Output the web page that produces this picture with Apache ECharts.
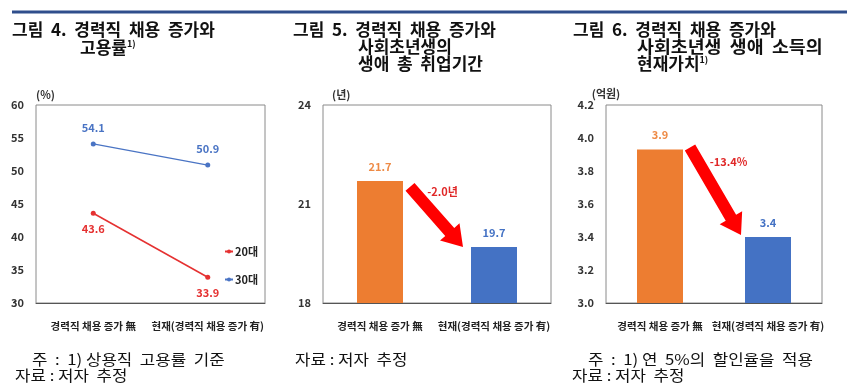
<!DOCTYPE html>
<html><head><meta charset="utf-8">
<script src="https://cdn.jsdelivr.net/npm/echarts@6/dist/echarts.min.js"></script>
<style>html,body{margin:0;padding:0;background:#fff}#c{width:860px;height:391px}</style>
</head><body><div id="c"></div>
<script>
// ---- data ----
const categories = ['경력직 채용 증가 無', '현재(경력직 채용 증가 有)'];
const seriesNames = ['20대', '30대'];
const rate20s = [43.6, 33.9];
const rate30s = [54.1, 50.9];
const workYears = [21.7, 19.7];
const incomePV = [3.93, 3.40];
const axis1 = [30, 60, 5];      // min, max, interval
const axis2 = [18, 24, 3];
const axis3 = [3.0, 4.2, 0.2];
const units = ['(%)', '(년)', '(억원)'];
const changeLabels = ['-2.0년', '-13.4%'];
const titles1 = ['그림  4.  경력직  채용  증가와', '고용률'];
const titles2 = ['그림  5.  경력직  채용  증가와', '사회초년생의', '생애  총  취업기간'];
const titles3 = ['그림  6.  경력직  채용  증가와', '사회초년생  생애  소득의', '현재가치'];
const notes = ['주  :  1) 상용직  고용률  기준', '자료 : 저자  추정', '주  :  1) 연  5%의  할인율을  적용'];

// ---- styles ----
const KR = "'Noto Sans CJK KR', sans-serif";
const NARROW = "'Liberation Sans Narrow', 'Noto Sans CJK KR', sans-serif";
const RED = '#e53131', BLUE = '#4a74c4', ORANGE = '#ed7d31', BARBLUE = '#4472c4';

const chart = echarts.init(document.getElementById('c'), null, {renderer: 'canvas'});

function yAxis(idx, a, fmt, nameStyle) {
  return {
    type: 'value', gridIndex: idx, min: a[0], max: a[1], interval: a[2],
    name: units[idx], nameLocation: 'end', nameGap: 5,
    nameTextStyle: Object.assign({fontFamily: NARROW, fontSize: 11, fontWeight: 'bold', color: '#333'}, nameStyle),
    axisLine: {show: false}, axisTick: {show: false}, splitLine: {show: false},
    axisLabel: {fontFamily: NARROW, fontSize: 11, fontWeight: 'bold', color: '#333', margin: 12, formatter: fmt}
  };
}
function xAxis(idx) {
  return {
    type: 'category', gridIndex: idx, data: categories, boundaryGap: true,
    axisTick: {show: false}, axisLine: {show: true, lineStyle: {color: '#555', width: 1}},
    axisLabel: {interval: 0, fontFamily: NARROW, fontSize: 10.5, fontWeight: 'bold', color: '#222', margin: 18}
  };
}
const gridBase = {show: true, borderColor: '#8a8a8a', borderWidth: 1, backgroundColor: 'transparent', containLabel: false};

function textEl(t, x, y, size, weight, sx) {
  return {type: 'text', x: x, y: y, scaleX: sx || 1, silent: true,
    style: {text: t, fill: '#111', font: weight + ' ' + size + 'px ' + KR, textVerticalAlign: 'middle'}};
}
function supEl(t, x, y) {
  return {type: 'text', x: x, y: y, silent: true, style: {text: '{a|' + t + '}{s|1)}', textVerticalAlign: 'middle',
    rich: {a: {font: 'bold 17px ' + KR, fill: '#111'}, s: {font: 'bold 9px ' + KR, fill: '#111', verticalAlign: 'top', padding: [0, 0, 9, 0]}}}};
}

const staticGraphics = [
  {type: 'line', shape: {x1: 12, y1: 12, x2: 847, y2: 12}, style: {stroke: '#2f4e8c', lineWidth: 3}, silent: true},
  textEl(titles1[0], 12, 30, 17, 'bold'),
  supEl(titles1[1], 80, 48),
  textEl(titles2[0], 293, 30, 17, 'bold'),
  textEl(titles2[1], 358, 47, 17, 'bold'),
  textEl(titles2[2], 358, 64, 17, 'bold'),
  textEl(titles3[0], 573, 30, 17, 'bold'),
  textEl(titles3[1], 637, 47, 17, 'bold', 1.08),
  supEl(titles3[2], 637, 64),
  textEl(notes[0], 32, 359, 15, 'normal', 1.12),
  textEl(notes[1], 15, 375, 15, 'normal', 1.12),
  textEl(notes[1], 295, 359, 15, 'normal', 1.12),
  textEl(notes[2], 588, 359, 15, 'normal', 1.12),
  textEl(notes[1], 572, 375, 15, 'normal', 1.12)
];

const option = {
  animation: false,
  backgroundColor: '#fff',
  grid: [
    Object.assign({left: 36, top: 105, width: 229, height: 198}, gridBase),
    Object.assign({left: 323, top: 105, width: 228, height: 198}, gridBase),
    Object.assign({left: 606, top: 105, width: 216, height: 198}, gridBase)
  ],
  xAxis: [xAxis(0), xAxis(1), xAxis(2)],
  yAxis: [
    yAxis(0, axis1, null, {align: 'left', padding: [0, 0, 0, 0]}),
    yAxis(1, axis2, null, {align: 'left', padding: [0, 0, 0, 9]}),
    yAxis(2, axis3, v => v.toFixed(1), {align: 'center'})
  ],
  legend: {
    data: [seriesNames[0], seriesNames[1]], orient: 'vertical', left: 224, top: 246, itemGap: 17,
    itemWidth: 8, itemHeight: 5, padding: 0,
    textStyle: {fontFamily: NARROW, fontSize: 11, fontWeight: 'bold', color: '#222', padding: [0, 0, 0, -3]}
  },
  series: [
    {name: seriesNames[0], type: 'line', xAxisIndex: 0, yAxisIndex: 0, data: rate20s,
     symbol: 'circle', symbolSize: 5, lineStyle: {color: RED, width: 1.5}, itemStyle: {color: RED},
     label: {show: true, position: 'bottom', distance: 8, color: RED, fontFamily: NARROW, fontSize: 11, fontWeight: 'bold'}},
    {name: seriesNames[1], type: 'line', xAxisIndex: 0, yAxisIndex: 0, data: rate30s,
     symbol: 'circle', symbolSize: 5, lineStyle: {color: BLUE, width: 1.2}, itemStyle: {color: BLUE},
     label: {show: true, position: 'top', distance: 8, color: BLUE, fontFamily: NARROW, fontSize: 11, fontWeight: 'bold'}},
    {type: 'bar', xAxisIndex: 1, yAxisIndex: 1, barWidth: 46,
     data: workYears.map((v, i) => ({value: v, itemStyle: {color: i === 0 ? ORANGE : BARBLUE},
       label: {color: i === 0 ? '#ee8a45' : BARBLUE}})),
     label: {show: true, position: 'top', distance: 9, fontFamily: NARROW, fontSize: 11, fontWeight: 'bold',
       formatter: p => p.value.toFixed(1)}},
    {type: 'bar', xAxisIndex: 2, yAxisIndex: 2, barWidth: 46,
     data: incomePV.map((v, i) => ({value: v, itemStyle: {color: i === 0 ? ORANGE : BARBLUE},
       label: {color: i === 0 ? '#ee8a45' : BARBLUE}})),
     label: {show: true, position: 'top', distance: 9, fontFamily: NARROW, fontSize: 11, fontWeight: 'bold',
       formatter: p => p.value.toFixed(1)}}
  ],
  graphic: staticGraphics
};
chart.setOption(option);

// ---- arrows computed from the axes ----
function arrowPts(S, E, hw, hh, hl) {
  const dx = E[0] - S[0], dy = E[1] - S[1], L = Math.hypot(dx, dy);
  const ux = dx / L, uy = dy / L, nx = -uy, ny = ux;
  const H = [E[0] - ux * hl, E[1] - uy * hl];
  return [
    [S[0] + nx * hw, S[1] + ny * hw], [H[0] + nx * hw, H[1] + ny * hw], [H[0] + nx * hh, H[1] + ny * hh],
    E, [H[0] - nx * hh, H[1] - ny * hh], [H[0] - nx * hw, H[1] - ny * hw], [S[0] - nx * hw, S[1] - ny * hw]
  ];
}
function arrowFor(gi, vals, sOff, eOff, label, lOff) {
  const p0 = chart.convertToPixel({xAxisIndex: gi, yAxisIndex: gi}, [0, vals[0]]);
  const p1 = chart.convertToPixel({xAxisIndex: gi, yAxisIndex: gi}, [1, vals[1]]);
  const S = [p0[0] + sOff[0], p0[1] + sOff[1]];
  const E = [p1[0] + eOff[0], p1[1] + eOff[1]];
  const M = [(S[0] + E[0]) / 2, (S[1] + E[1]) / 2];
  return [
    {type: 'polygon', shape: {points: arrowPts(S, E, 6, 13, 20)}, style: {fill: '#ff0000'}, silent: true, z: 10},
    {type: 'text', x: M[0] + lOff[0], y: M[1] + lOff[1], silent: true, z: 10,
     style: {text: label, fill: '#e02828', font: 'bold 11px ' + NARROW, textAlign: 'center', textVerticalAlign: 'middle'}}
  ];
}
const arrows = [].concat(
  arrowFor(1, workYears, [30, 6], [-31, 0], changeLabels[0], [6, -25]),
  arrowFor(2, incomePV, [30, -2], [-27, -2], changeLabels[1], [13, -29])
);
chart.setOption({graphic: staticGraphics.concat(arrows)});
</script>
</body></html>
